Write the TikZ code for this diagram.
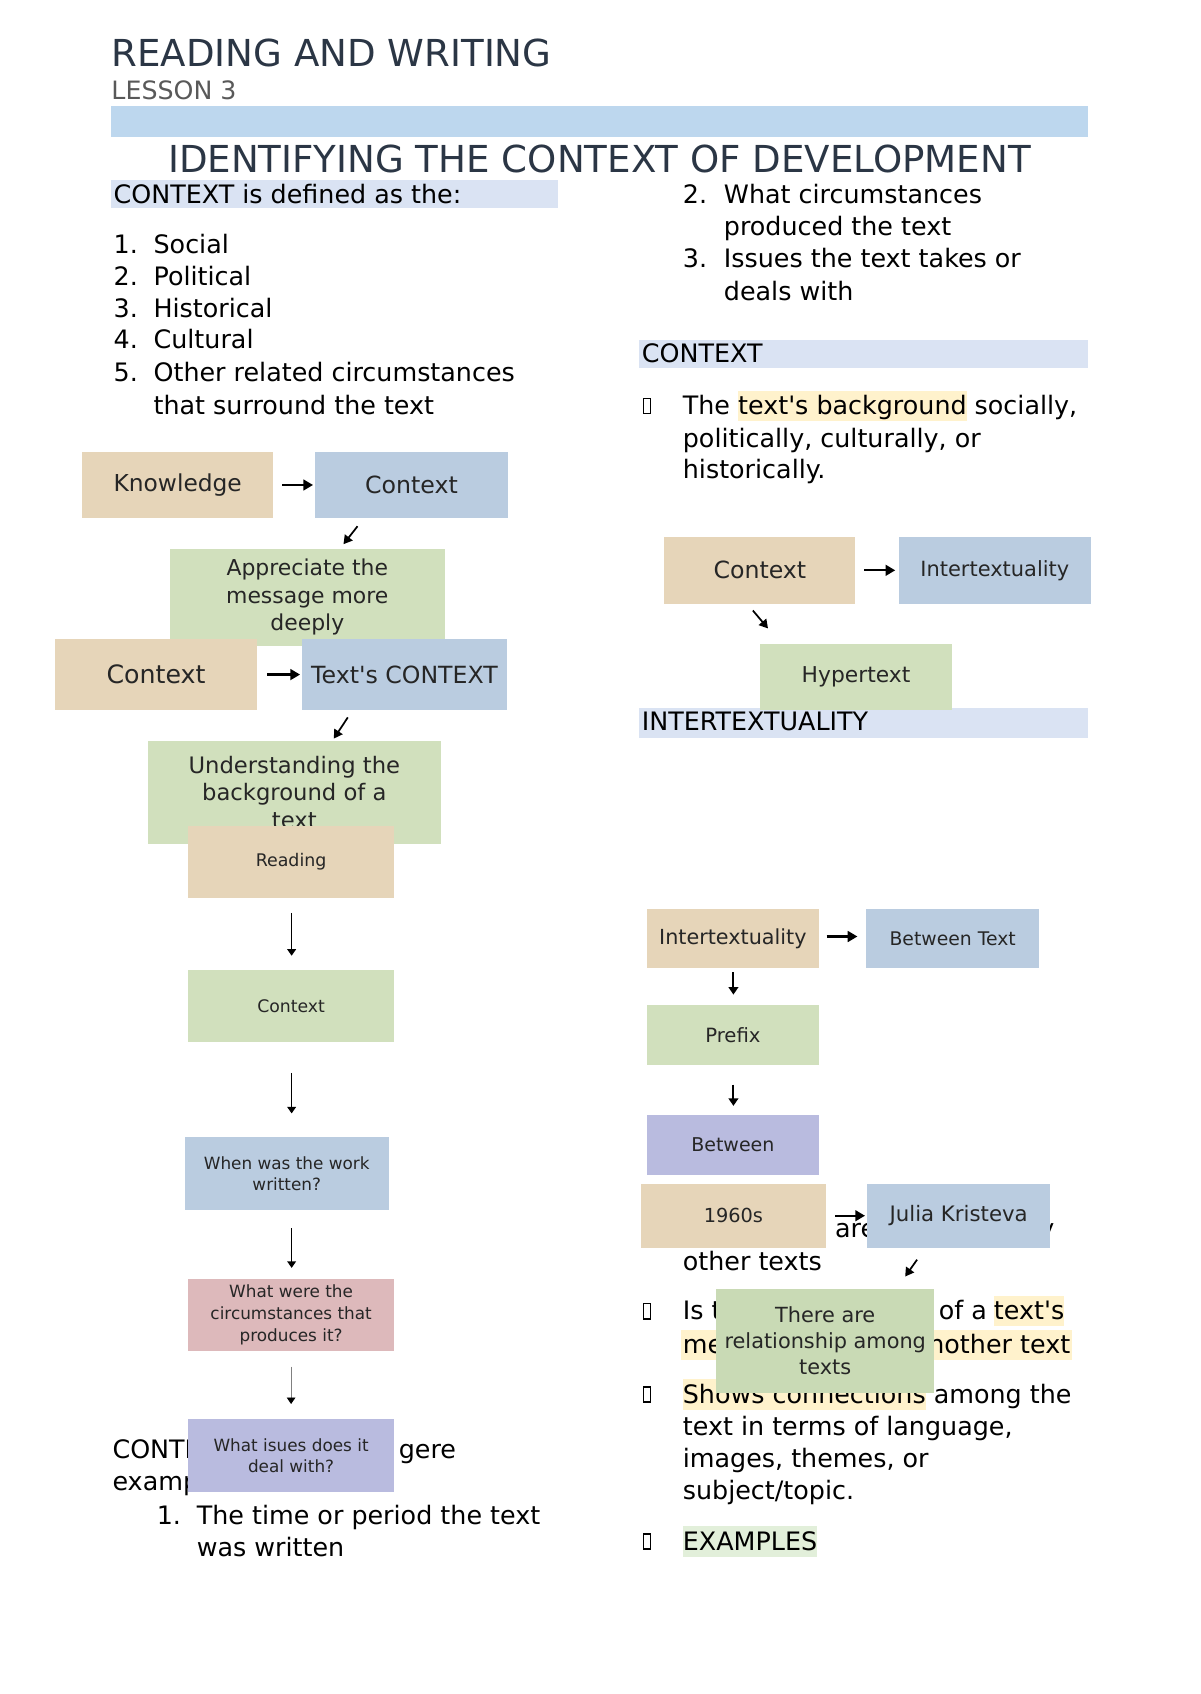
\documentclass[tikz,border=0pt]{standalone}
\usepackage{fontspec}
\setmainfont{DejaVu Sans}
\usetikzlibrary{arrows.meta,calc}
\definecolor{ctan}{HTML}{E6D5B9}
\definecolor{cblue}{HTML}{BACCE0}
\definecolor{cgreen}{HTML}{D1E0BD}
\definecolor{cgreentwo}{HTML}{C9DAB5}
\definecolor{cpink}{HTML}{DDB9BB}
\definecolor{clav}{HTML}{B9BBDF}
\definecolor{barblue}{HTML}{BDD7EE}
\definecolor{secbar}{HTML}{DAE3F3}
\definecolor{hly}{HTML}{FFF2CC}
\definecolor{hlg}{HTML}{E2EFDA}
\definecolor{titlec}{HTML}{2B3645}
\definecolor{lessonc}{HTML}{595959}
\definecolor{boxtext}{HTML}{262626}
\newcommand\hlbox[2]{{\setlength\fboxsep{0pt}\colorbox{#1}{\rule[-6pt]{0pt}{28pt}#2}}}
\newcommand\sq{\textquotesingle}
\tikzset{
  body/.style={inner sep=0pt, anchor=base west, text=black, font=\fontsize{23.5}{29.5}\selectfont},
  box/.style={inner sep=0pt, align=center, text=boxtext},
  tanbox/.style={box, fill=ctan},
  bluebox/.style={box, fill=cblue},
  greenbox/.style={box, fill=cgreen},
  pinkbox/.style={box, fill=cpink},
  lavbox/.style={box, fill=clav},
  tofu/.style={draw=black, line width=1.3pt, inner sep=0pt, minimum width=6pt, minimum height=14pt},
  harr/.style={line width=2pt, -{Triangle[length=9pt,width=10pt]}},
  darr/.style={line width=1.6pt, -{Triangle[length=8pt,width=9pt]}},
  varr/.style={line width=1.2pt, -{Triangle[length=6pt,width=8pt]}},
  rvarr/.style={line width=1.8pt, -{Triangle[length=7pt,width=9pt]}},
}
\begin{document}
\begin{tikzpicture}[x=1pt,y=-1pt]
\useasboundingbox (0,0) rectangle (1111,1568.3);

% ---------- header ----------
\node[anchor=base west, inner sep=0pt, text=titlec, font=\fontsize{34.4}{40}\selectfont] (title) at (103,62) {READING AND WRITING};
\node[anchor=base west, inner sep=0pt, text=lessonc, font=\fontsize{23.4}{28}\selectfont] (lesson) at (103,92) {LESSON 3};
\node[fill=barblue, inner sep=0pt, minimum width=904pt, minimum height=29pt] (topbar) at (555,112.5) {};
\node[anchor=base, inner sep=0pt, text=titlec, font=\fontsize{34.4}{40}\selectfont] (subtitle) at (555,160) {IDENTIFYING THE CONTEXT OF DEVELOPMENT};

% ---------- left text column ----------
\node[fill=secbar, inner sep=0pt, minimum width=414pt, minimum height=26pt] (defbar) at (310,180) {};
\node[body] (def) at (105,188) {CONTEXT is defined as the:};
\node[body] (n1) at (105,235) {1.};  \node[body] (t1) at (142,235) {Social};
\node[body] (n2) at (105,264) {2.};  \node[body] (t2) at (142,264) {Political};
\node[body] (n3) at (105,294) {3.};  \node[body] (t3) at (142,294) {Historical};
\node[body] (n4) at (105,323) {4.};  \node[body] (t4) at (142,323) {Cultural};
\node[body] (n5) at (105,353) {5.};  \node[body] (t5) at (142,353) {Other related circumstances};
\node[body] (t5b) at (142,384) {that surround the text};

% ---------- right text column ----------
\node[body] (rn2) at (632,188) {2.}; \node[body] (r2) at (670,188) {What circumstances};
\node[body] (r2b) at (670,218) {produced the text};
\node[body] (rn3) at (632,248) {3.}; \node[body] (r3) at (670,248) {Issues the text takes or};
\node[body] (r3b) at (670,278) {deals with};
\node[fill=secbar, inner sep=0pt, minimum width=415pt, minimum height=26pt] (ctxbar) at (799.5,328) {};
\node[body] (ctxhead) at (594,336) {CONTEXT};
\node[tofu] (bu1) at (599,376) {};
\node[body] (bg1) at (632,384) {The \hlbox{hly}{text\sq s background} socially,};
\node[body] (bg2) at (632,414) {politically, culturally, or};
\node[body] (bg3) at (632,443) {historically.};

\node[fill=secbar, inner sep=0pt, minimum width=415pt, minimum height=28pt] (intbar) at (799.5,669) {};
\node[body] (inthead) at (594,676) {INTERTEXTUALITY};

% texts lying under the lower right boxes
\node[body] (are) at (773,1146) {are};
\node[body] (ytail) at (962,1146) {y};
\node[body] (other) at (632,1176) {other texts};
\node[tofu] (bu2) at (599,1214) {};
\node[body] (ist) at (632,1222) {Is the};
\node[body] (ofa) at (869,1222) {of a};
\node[body] (txs) at (920,1222) {\hlbox{hly}{text\sq s}};
\fill[hly] (630,1231) rectangle (992,1259);
\node[body] (mea) at (632,1253) {meaning};
\node[body, anchor=base east] (ano) at (991,1253) {another text};
\node[tofu] (bu3) at (599,1291) {};
\node[body] (sh1) at (632,1299) {\hlbox{hly}{Shows connections} among the};
\node[body] (sh2) at (632,1329) {text in terms of language,};
\node[body] (sh3) at (632,1359) {images, themes, or};
\node[body] (sh4) at (632,1388) {subject/topic.};
\node[tofu] (bu4) at (599,1427) {};
\node[body] (ex) at (632,1435) {\hlbox{hlg}{EXAMPLES}};

% texts lying under the lower left boxes
\node[body] (ctxl) at (104,1350) {CONTEXT};
\node[body] (gere) at (369,1350) {gere};
\node[body] (exl) at (104,1380) {examples};
\node[body] (bn1) at (145,1411) {1.};
\node[body] (bt1) at (182,1411) {The time or period the text};
\node[body] (bt1b) at (182,1441) {was written};

% ---------- left diagram ----------
\node[tanbox, minimum width=177pt, minimum height=62pt, font=\fontsize{21.6}{26}\selectfont] (know) at (164.5,449) {\raisebox{-3pt}{Knowledge}};
\node[bluebox, minimum width=178pt, minimum height=62pt, font=\fontsize{21.9}{26}\selectfont] (ctxA) at (381,449) {Context};
\node[greenbox, minimum width=255pt, minimum height=90pt, font=\fontsize{20.3}{25.5}\selectfont] (appr) at (284.5,553) {Appreciate the\\message more\\deeply};
\node[tanbox, minimum width=187pt, minimum height=65pt, font=\fontsize{23.4}{28}\selectfont] (ctxB) at (144.5,624.5) {\raisebox{-2pt}{Context}};
\node[bluebox, minimum width=189pt, minimum height=65pt, font=\fontsize{21.9}{26}\selectfont] (tctx) at (374.5,624.5) {Text\sq s CONTEXT};
\node[greenbox, minimum width=271pt, minimum height=95pt, font=\fontsize{21}{25.5}\selectfont] (und) at (272.5,733.5) {Understanding the\\background of a\\text};
\node[tanbox, minimum width=191pt, minimum height=66pt, font=\fontsize{16.1}{20}\selectfont] (read) at (269.5,798) {Reading};
\node[greenbox, minimum width=191pt, minimum height=67pt, font=\fontsize{16}{20}\selectfont] (ctxC) at (269.5,931.5) {Context};
\node[bluebox, minimum width=189pt, minimum height=67pt, font=\fontsize{15.6}{20}\selectfont] (when) at (265.5,1086.5) {When was the work\\written?};
\node[pinkbox, minimum width=191pt, minimum height=67pt, font=\fontsize{15.6}{20.5}\selectfont] (circ) at (269.5,1217.5) {What were the\\circumstances that\\produces it?};
\node[lavbox, minimum width=191pt, minimum height=67pt, font=\fontsize{15.6}{20}\selectfont] (iss) at (269.5,1347.5) {What isues does it\\deal with?};

\draw[harr] ($(know.east)+(8,0)$) -- ($(ctxA.west)+(-2,0)$);
\draw[darr] ($(ctxA.south)+(-50,7)$) -- ($(appr.north)+(33.5,-4)$);
\draw[harr] ($(ctxB.east)+(9,0)$) -- ($(tctx.west)+(-2,0)$);
\draw[darr] ($(tctx.south)+(-52.5,7)$) -- ($(und.north)+(36.5,-2)$);
\draw[varr] ($(read.south)+(0.5,14)$) -- ($(ctxC.north)+(0.5,-13)$);
\draw[varr] ($(ctxC.south)+(0.5,28)$) -- ($(when.north)+(4.5,-22)$);
\draw[varr] ($(when.south)+(4.5,17)$) -- ($(circ.north)+(0.5,-10)$);
\draw[draw=gray, line width=0.8pt, -{Triangle[length=6pt,width=8pt,color=black]}] ($(circ.south)+(0,14)$) -- ($(iss.north)+(0,-14)$);

% ---------- right diagram 1 ----------
\node[tanbox, minimum width=177pt, minimum height=62pt, font=\fontsize{21.9}{26}\selectfont] (rctx) at (703.5,528) {\raisebox{-3pt}{Context}};
\node[bluebox, minimum width=178pt, minimum height=62pt, font=\fontsize{19.4}{24}\selectfont] (rint) at (921,528) {Intertextuality};
\node[greenbox, minimum width=177pt, minimum height=61pt, font=\fontsize{20.2}{24}\selectfont] (hyp) at (792.5,626.5) {Hypertext};
\draw[harr] ($(rctx.east)+(8,0)$) -- ($(rint.west)+(-3,0)$);
\draw[darr] ($(rctx.south)+(-6.5,6)$) -- ($(hyp.north)+(-81.5,-14)$);

% ---------- right diagram 2 ----------
\node[tanbox, minimum width=159pt, minimum height=54pt, font=\fontsize{19.2}{24}\selectfont] (int2) at (678.5,869) {\raisebox{-2pt}{Intertextuality}};
\node[bluebox, minimum width=160pt, minimum height=54pt, font=\fontsize{17.4}{22}\selectfont] (btx) at (882,869) {Between Text};
\node[greenbox, minimum width=159pt, minimum height=56pt, font=\fontsize{18.2}{22}\selectfont] (pre) at (678.5,958) {Prefix};
\node[lavbox, minimum width=159pt, minimum height=56pt, font=\fontsize{17.6}{22}\selectfont] (btw) at (678.5,1060) {Between};
\node[tanbox, minimum width=172pt, minimum height=59pt, font=\fontsize{17.9}{22}\selectfont] (s60) at (679,1125.5) {\raisebox{-2pt}{1960s}};
\node[bluebox, minimum width=169pt, minimum height=59pt, font=\fontsize{19.7}{24}\selectfont] (jk) at (887.5,1125.5) {Julia Kristeva};
\node[box, fill=cgreentwo, minimum width=202pt, minimum height=97pt, font=\fontsize{19.3}{24}\selectfont] (there) at (764,1241.5) {There are\\relationship among\\texts};

\draw[harr] ($(int2.east)+(7,-2)$) -- ($(btx.west)+(-8,-2)$);
\draw[rvarr] ($(int2.south)+(0.5,4)$) -- ($(pre.north)+(0.5,-9)$);
\draw[rvarr] ($(pre.south)+(0.5,18)$) -- ($(btw.north)+(0.5,-8)$);
\draw[harr] ($(s60.east)+(8,0)$) -- ($(jk.west)+(-2,0)$);
\draw[darr] ($(jk.south)+(-38.5,11)$) -- ($(there.north)+(74,-11)$);
\end{tikzpicture}
\end{document}
